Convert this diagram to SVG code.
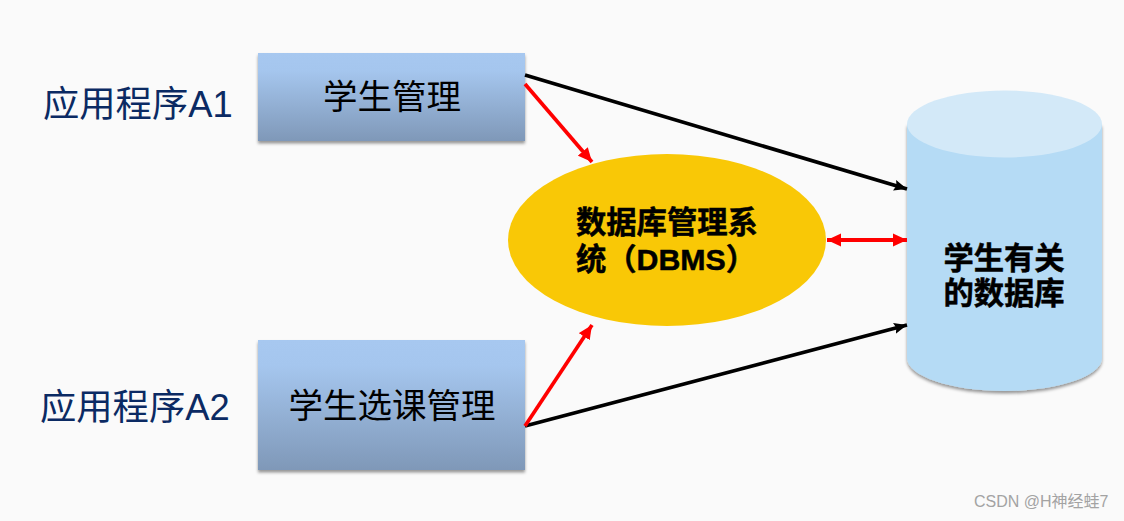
<svg xmlns="http://www.w3.org/2000/svg" width="1124" height="521" viewBox="0 0 1124 521">
<style>
text{font-family:"Liberation Sans","Noto Sans CJK SC",sans-serif}
.app{font-size:36.300px;fill:#0b2a63}
.box{font-size:34.500px;fill:#000;text-anchor:middle}
.bold{font-size:30.300px;font-weight:700;fill:#000;stroke:#000;stroke-width:0.500}
.blk{stroke:#000;stroke-width:3.700;fill:none}
.red{stroke:#f00;stroke-width:3.700;fill:none}
.redw{stroke:#f00;stroke-width:4.200;fill:none}
</style>
<defs>
<linearGradient id="g" x1="0" y1="0" x2="0" y2="1">
<stop offset="0" stop-color="#a7c8f0"/><stop offset="0.2" stop-color="#a5c6ee"/><stop offset="1" stop-color="#7f98b8"/>
</linearGradient>
<filter id="s" x="-5%" y="-5%" width="110%" height="115%"><feDropShadow dx="0" dy="2.500" stdDeviation="1.800" flood-color="#000" flood-opacity="0.4"/></filter>
<marker id="ab" markerUnits="userSpaceOnUse" markerWidth="14" markerHeight="12" refX="13" refY="6" orient="auto"><path d="M0 0.500L13 6L0 11.500L2 6Z" fill="#000"/></marker>
<marker id="ar" markerUnits="userSpaceOnUse" markerWidth="15" markerHeight="14" refX="14" refY="7" orient="auto"><path d="M0 0.500L14 7L0 13.500Z" fill="#f00"/></marker>
<marker id="ars" markerUnits="userSpaceOnUse" markerWidth="15" markerHeight="14" refX="1" refY="7" orient="auto"><path d="M15 0.500L1 7L15 13.500Z" fill="#f00"/></marker>
</defs>
<rect width="1124" height="521" fill="#fafafa"/>
<g id="label-a1"><text class="app" x="43" y="117">应用程序A1</text></g>
<g id="label-a2"><text class="app" x="40" y="420">应用程序A2</text></g>
<g id="student-mgmt"><rect x="258" y="53" width="267" height="88" fill="url(#g)" filter="url(#s)"/><text class="box" x="392" y="109">学生管理</text></g>
<g id="course-mgmt"><rect x="258" y="340" width="267" height="130" fill="url(#g)" filter="url(#s)"/><text class="box" x="392" y="418">学生选课管理</text></g>
<g id="dbms"><ellipse cx="667" cy="240" rx="159" ry="86" fill="#f9c806"/>
<text class="bold"><tspan x="576" y="233">数据库管理系</tspan><tspan x="576" y="270">统（DBMS）</tspan></text></g>
<g id="database">
<path d="M907 124V358C907 376 951 391 1004.500 391S1102 376 1102 358V124Z" fill="#b5dbf5" filter="url(#s)"/>
<ellipse cx="1004.500" cy="124" rx="97.500" ry="33.500" fill="#d3e9f8"/>
<text class="bold" text-anchor="middle"><tspan x="1004" y="269">学生有关</tspan><tspan x="1004" y="304">的数据库</tspan></text>
</g>
<g id="connectors">
<path class="blk" d="M525 75L907 189" marker-end="url(#ab)"/>
<path class="blk" d="M525 426L907 325" marker-end="url(#ab)"/>
<path class="red" d="M525 84L592 162" marker-end="url(#ar)"/>
<path class="red" d="M525 426L592 325" marker-end="url(#ar)"/>
<path class="redw" d="M827 240H907" marker-start="url(#ars)" marker-end="url(#ar)"/>
</g>
<g id="watermark"><text x="974" y="507" font-size="16" fill="#a3a3a3">CSDN @H神经蛙7</text></g>
</svg>
